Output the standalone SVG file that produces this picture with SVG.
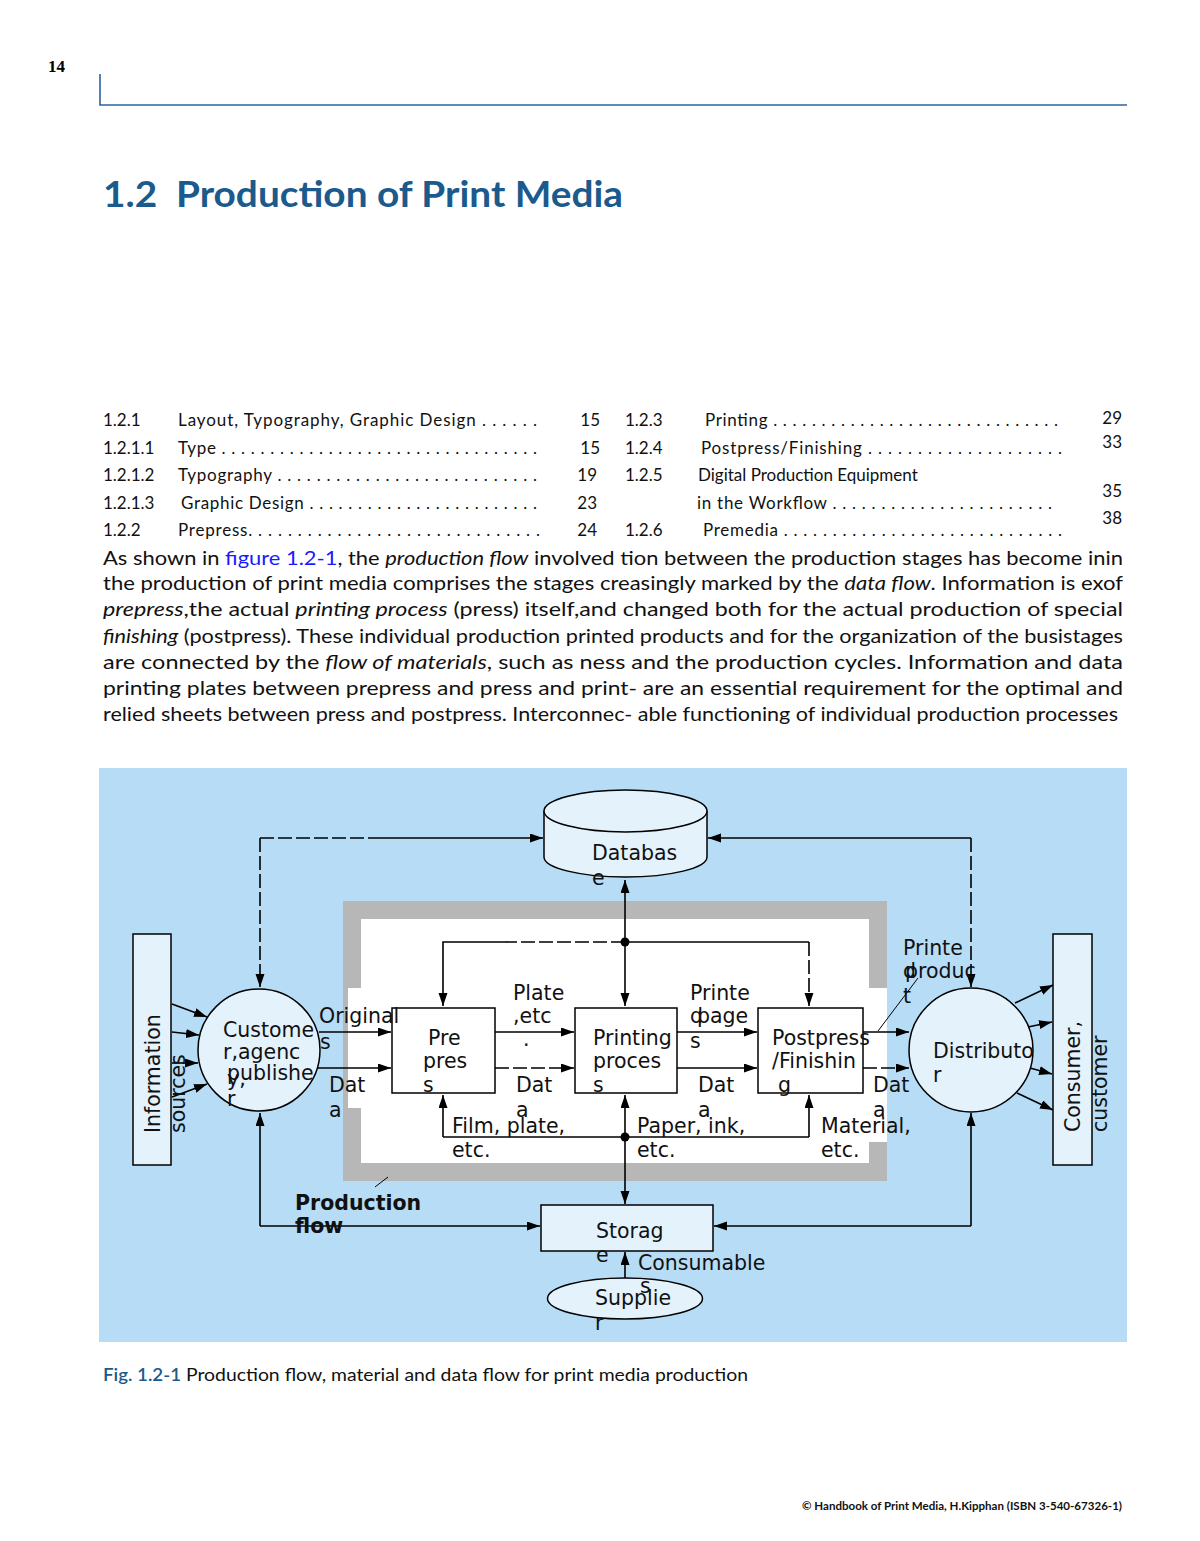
<svg xmlns="http://www.w3.org/2000/svg" width="1200" height="1541" viewBox="0 0 1200 1541">
<defs>
<marker id="ah" markerUnits="userSpaceOnUse" markerWidth="14" markerHeight="10" refX="13" refY="4.5" orient="auto"><path d="M0,0 L13,4.5 L0,9 Z" fill="#000" stroke="none"/></marker>
</defs>
<style>
.toc{font-family:Lato,"Open Sans",sans-serif;font-size:17px;fill:#111}
.p{font-family:Lato,"Open Sans",sans-serif;font-size:20px;fill:#111}
.d{font-family:"DejaVu Sans",Verdana,sans-serif;font-size:20.5px;fill:#111}
.b{font-weight:bold}
.ln{fill:none;stroke:#000;stroke-width:1.6}
.th{fill:none;stroke:#000;stroke-width:1}
.da{stroke-dasharray:14 4}
.nd{fill:#e4f2fc;stroke:#000;stroke-width:1.5}
.bx{fill:#fff;stroke:#000;stroke-width:1.5}
.it{font-style:italic}
</style>
<rect width="1200" height="1541" fill="#fff"/>

<!-- page header -->
<g id="header">
<text x="48" y="72" font-family="'Liberation Serif',serif" font-weight="bold" font-size="17" fill="#000">14</text>
<path d="M100,74 V105 H1127" fill="none" stroke="#2a64a0" stroke-width="1.6"/>
<text x="103" y="207" xml:space="preserve" font-family="Lato,'Open Sans',sans-serif" font-weight="bold" font-size="37" fill="#1b5a8c" textLength="520" lengthAdjust="spacingAndGlyphs">1.2  Production of Print Media</text>
</g>

<!-- table of contents -->
<g id="toc" class="toc">
<text x="103" y="426">1.2.1</text>
<text x="178" y="426" textLength="359" lengthAdjust="spacing">Layout, Typography, Graphic Design . . . . . .</text>
<text x="600" y="426" text-anchor="end">15</text>
<text x="103" y="454">1.2.1.1</text>
<text x="178" y="454" textLength="359" lengthAdjust="spacing">Type . . . . . . . . . . . . . . . . . . . . . . . . . . . . . . . . .</text>
<text x="600" y="454" text-anchor="end">15</text>
<text x="103" y="481">1.2.1.2</text>
<text x="178" y="481" textLength="359" lengthAdjust="spacing">Typography . . . . . . . . . . . . . . . . . . . . . . . . . . .</text>
<text x="597" y="481" text-anchor="end">19</text>
<text x="103" y="509">1.2.1.3</text>
<text x="181" y="509" textLength="356" lengthAdjust="spacing">Graphic Design . . . . . . . . . . . . . . . . . . . . . . . .</text>
<text x="597" y="509" text-anchor="end">23</text>
<text x="103" y="536">1.2.2</text>
<text x="178" y="536" textLength="362" lengthAdjust="spacing">Prepress. . . . . . . . . . . . . . . . . . . . . . . . . . . . . .</text>
<text x="597" y="536" text-anchor="end">24</text>

<text x="625" y="426">1.2.3</text>
<text x="705" y="426" textLength="353" lengthAdjust="spacing">Printing . . . . . . . . . . . . . . . . . . . . . . . . . . . . . .</text>
<text x="1122" y="424" text-anchor="end">29</text>
<text x="625" y="454">1.2.4</text>
<text x="701" y="454" textLength="361" lengthAdjust="spacing">Postpress/Finishing . . . . . . . . . . . . . . . . . . . .</text>
<text x="1122" y="448" text-anchor="end">33</text>
<text x="625" y="481">1.2.5</text>
<text x="698" y="481">Digital Production Equipment</text>
<text x="697" y="509" textLength="355" lengthAdjust="spacing">in the Workflow . . . . . . . . . . . . . . . . . . . . . . .</text>
<text x="1122" y="497" text-anchor="end">35</text>
<text x="625" y="536">1.2.6</text>
<text x="703" y="536" textLength="359" lengthAdjust="spacing">Premedia . . . . . . . . . . . . . . . . . . . . . . . . . . . . .</text>
<text x="1122" y="524" text-anchor="end">38</text>
</g>

<!-- body paragraph -->
<g id="body" class="p">
<text x="103" y="565" textLength="1020" lengthAdjust="spacingAndGlyphs">As shown in <tspan fill="#1a1aff">figure 1.2-1</tspan>, the <tspan class="it">production flow</tspan> involved tion between the production stages has become inin</text>
<text x="103" y="590" textLength="1020" lengthAdjust="spacingAndGlyphs">the production of print media comprises the stages creasingly marked by the <tspan class="it">data flow</tspan>. Information is exof</text>
<text x="103" y="616" textLength="1020" lengthAdjust="spacingAndGlyphs"><tspan class="it">prepress</tspan>,the actual <tspan class="it">printing process</tspan> (press) itself,and changed both for the actual production of special</text>
<text x="103" y="643" textLength="1020" lengthAdjust="spacingAndGlyphs"><tspan class="it">finishing</tspan> (postpress). These individual production printed products and for the organization of the busistages</text>
<text x="103" y="669" textLength="1020" lengthAdjust="spacingAndGlyphs">are connected by the <tspan class="it">flow of materials</tspan>, such as ness and the production cycles. Information and data</text>
<text x="103" y="695" textLength="1020" lengthAdjust="spacingAndGlyphs">printing plates between prepress and press and print- are an essential requirement for the optimal and</text>
<text x="103" y="721" textLength="1015" lengthAdjust="spacingAndGlyphs">relied sheets between press and postpress. Interconnec- able functioning of individual production processes</text>
</g>

<!-- diagram background -->
<g id="background">
<rect x="99" y="768" width="1028" height="574" fill="#b6dcf6"/>
<rect x="343" y="901" width="544" height="280" fill="#b7b7b7"/>
<rect x="361" y="919" width="508" height="244" fill="#fff"/>
<rect x="348" y="988" width="14" height="120" fill="#fff"/>
<rect x="868" y="988" width="19" height="154" fill="#fff"/>
</g>

<!-- connectors -->
<g id="connectors">
<path class="ln" d="M172,1004 L207,1017" marker-end="url(#ah)"/>
<path class="ln" d="M172,1032 L199,1035" marker-end="url(#ah)"/>
<path class="ln" d="M172,1063 L198,1063" marker-end="url(#ah)"/>
<path class="ln" d="M172,1097 L207,1084" marker-end="url(#ah)"/>

<path class="ln da" d="M260,838 H382"/>
<path class="ln" d="M382,838 H543" marker-end="url(#ah)"/>
<path class="ln da" d="M260,838 V987" marker-end="url(#ah)"/>
<path class="ln" d="M971,838 H708" marker-end="url(#ah)"/>
<path class="ln da" d="M971,838 V987" marker-end="url(#ah)"/>

<path class="ln" d="M625,942 V880" marker-end="url(#ah)"/>
<path class="ln" d="M625,942 V1006" marker-end="url(#ah)"/>
<path class="ln da" d="M625,942 H505"/>
<path class="ln" d="M505,942 H443 V1006" marker-end="url(#ah)"/>
<path class="ln" d="M625,942 H809"/>
<path class="ln da" d="M809,942 V1006" marker-end="url(#ah)"/>
<circle cx="625" cy="942" r="4.5" fill="#000"/>

<path class="ln" d="M319,1032 H391" marker-end="url(#ah)"/>
<path class="ln" d="M317,1068 H391" marker-end="url(#ah)"/>
<path class="ln" d="M495,1032 H574" marker-end="url(#ah)"/>
<path class="ln da" d="M495,1068 H574" marker-end="url(#ah)"/>
<path class="ln" d="M677,1032 H757" marker-end="url(#ah)"/>
<path class="ln" d="M677,1068 H757" marker-end="url(#ah)"/>
<path class="ln" d="M863,1032 H909" marker-end="url(#ah)"/>
<path class="ln da" d="M863,1068 H909" marker-end="url(#ah)"/>
<path class="th" d="M878,1031 L918,978"/>

<path class="ln" d="M1015,1003 L1053,985" marker-end="url(#ah)"/>
<path class="ln" d="M1028,1027 L1052,1022" marker-end="url(#ah)"/>
<path class="ln" d="M1030,1068 L1052,1074" marker-end="url(#ah)"/>
<path class="ln" d="M1017,1093 L1053,1110" marker-end="url(#ah)"/>

<path class="ln" d="M443,1137 H809"/>
<path class="ln" d="M443,1137 V1095" marker-end="url(#ah)"/>
<path class="ln" d="M625,1137 V1095" marker-end="url(#ah)"/>
<path class="ln" d="M809,1137 V1095" marker-end="url(#ah)"/>
<path class="ln" d="M625,1137 V1204" marker-end="url(#ah)"/>
<circle cx="625" cy="1137" r="4.5" fill="#000"/>

<path class="ln" d="M260,1226 H540" marker-end="url(#ah)"/>
<path class="ln" d="M260,1226 V1113" marker-end="url(#ah)"/>
<path class="ln" d="M971,1226 H714" marker-end="url(#ah)"/>
<path class="ln" d="M971,1226 V1113" marker-end="url(#ah)"/>
<path class="ln" d="M625,1278 V1252" marker-end="url(#ah)"/>
<path class="th" d="M375,1187 L388,1177"/>
</g>

<!-- nodes -->
<g id="database">
<path class="nd" d="M544,811 V857 A81.5,20 0 0 0 707,857 V811"/>
<ellipse class="nd" cx="625.5" cy="811" rx="81.5" ry="21"/>
<text class="d" x="592" y="860">Databas</text>
<text class="d" x="592" y="885">e</text>
</g>

<g id="information-sources">
<rect class="nd" x="133" y="934" width="38" height="231"/>
<text class="d" transform="translate(160,1133) rotate(-90)">Information</text>
<text class="d" transform="translate(185,1133) rotate(-90)">sources</text>
</g>

<g id="customer">
<circle class="nd" cx="259" cy="1050" r="61"/>
<text class="d" x="223" y="1037">Custome</text>
<text class="d" x="223" y="1059">r,agenc</text>
<text class="d" x="227" y="1086">y,</text>
<text class="d" x="227" y="1080">publishe</text>
<text class="d" x="227" y="1106">r</text>
</g>

<g id="prepress">
<rect class="bx" x="392" y="1008" width="103" height="85"/>
<text class="d" x="428" y="1045">Pre</text>
<text class="d" x="423" y="1068">pres</text>
<text class="d" x="423" y="1092">s</text>
</g>

<g id="printing">
<rect class="bx" x="575" y="1008" width="102" height="85"/>
<text class="d" x="593" y="1045">Printing</text>
<text class="d" x="593" y="1068">proces</text>
<text class="d" x="593" y="1092">s</text>
</g>

<g id="postpress">
<rect class="bx" x="758" y="1008" width="105" height="85"/>
<text class="d" x="772" y="1045">Postpress</text>
<text class="d" x="772" y="1068">/Finishin</text>
<text class="d" x="778" y="1092">g</text>
</g>

<g id="distributor">
<circle class="nd" cx="971" cy="1050" r="62"/>
<text class="d" x="933" y="1058">Distributo</text>
<text class="d" x="933" y="1082">r</text>
</g>

<g id="consumer">
<rect class="nd" x="1053" y="934" width="39" height="231"/>
<text class="d" transform="translate(1080,1132) rotate(-90)">Consumer,</text>
<text class="d" transform="translate(1107,1132) rotate(-90)">customer</text>
</g>

<g id="storage">
<rect class="nd" x="541" y="1205" width="172" height="46"/>
<text class="d" x="596" y="1238">Storag</text>
<text class="d" x="596" y="1262">e</text>
</g>

<g id="supplier">
<ellipse class="nd" cx="625" cy="1298.5" rx="77.5" ry="20.5"/>
<text class="d" x="595" y="1305">Supplie</text>
<text class="d" x="595" y="1330">r</text>
</g>

<!-- connector labels -->
<g id="labels" class="d">
<text x="319" y="1023">Original</text>
<text x="320" y="1049">s</text>
<text x="329" y="1092">Dat</text>
<text x="329" y="1117">a</text>
<text x="513" y="1000">Plate</text>
<text x="513" y="1023">,etc</text>
<text x="523" y="1046">.</text>
<text x="516" y="1092">Dat</text>
<text x="516" y="1117">a</text>
<text x="690" y="1000">Printe</text>
<text x="690" y="1023">d</text>
<text x="697" y="1023">page</text>
<text x="690" y="1048">s</text>
<text x="698" y="1092">Dat</text>
<text x="698" y="1117">a</text>
<text x="903" y="955">Printe</text>
<text x="903" y="978">d</text>
<text x="905" y="978">produc</text>
<text x="903" y="1003">t</text>
<text x="873" y="1092">Dat</text>
<text x="873" y="1117">a</text>
<text x="452" y="1133">Film, plate,</text>
<text x="452" y="1157">etc.</text>
<text x="637" y="1133">Paper, ink,</text>
<text x="637" y="1157">etc.</text>
<text x="821" y="1133">Material,</text>
<text x="821" y="1157">etc.</text>
<text x="638" y="1270">Consumable</text>
<text x="640" y="1293">s</text>
<text class="b" x="295" y="1210">Production</text>
<text class="b" x="295" y="1233">flow</text>
</g>

<!-- caption and footer -->
<g id="caption">
<text x="103" y="1381" font-family="Lato,'Open Sans',sans-serif" font-weight="600" font-size="18" fill="#1b5a8c" textLength="78" lengthAdjust="spacingAndGlyphs">Fig. 1.2-1</text>
<text x="186" y="1381" font-family="Lato,'Open Sans',sans-serif" font-size="18" fill="#111" textLength="562" lengthAdjust="spacingAndGlyphs">Production flow, material and data flow for print media production</text>
<text x="802" y="1510" font-family="Lato,'Open Sans',sans-serif" font-weight="bold" font-size="11" fill="#111" textLength="320" lengthAdjust="spacingAndGlyphs">© Handbook of Print Media, H.Kipphan (ISBN 3-540-67326-1)</text>
</g>
</svg>
